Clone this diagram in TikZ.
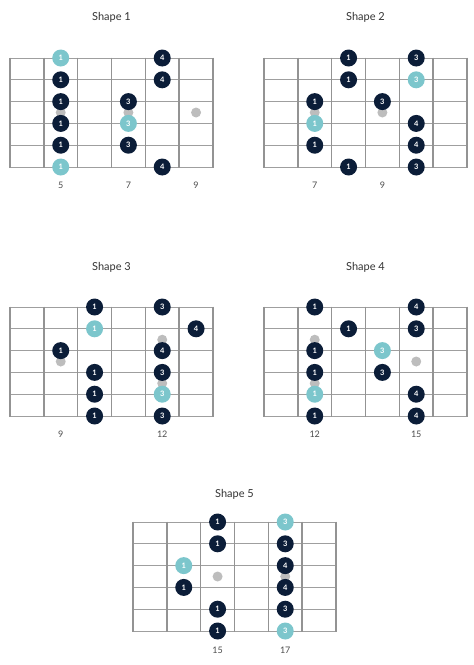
\documentclass[tikz,border=0pt]{standalone}
\usepackage{fontspec}
\setmainfont{Lato}
\usetikzlibrary{positioning}
\definecolor{navy}{HTML}{0B1D38}
\definecolor{rootcol}{HTML}{7CC6CC}
\definecolor{inlay}{HTML}{BDBDBD}

\tikzset{
  fret/.style={line width=1.6pt,draw=gray!85},
  string/.style={line width=0.7pt,draw=gray!75},
  finger/.style={circle,fill=navy,text=white,minimum size=17pt,inner sep=0pt,font=\fontsize{7.5}{7.5}\selectfont\bfseries},
  root/.style={finger,fill=rootcol},
  dotmark/.style={fill=inlay},
  title/.style={font=\fontsize{11}{13}\selectfont,text=black!80},
  fretno/.style={font=\fontsize{9}{10}\selectfont,text=black!70}
}
% one fretboard: 6 strings, 6 fret spaces
\newcommand{\board}{%
  \foreach \s in {0,...,5} \draw[string] (0,\s*21.8) -- (203,\s*21.8);
  \foreach \f in {0,...,6} \draw[fret] (\f*33.83,-0.5) -- (\f*33.83,109.5);
}

\begin{document}
\begin{tikzpicture}[x=1pt,y=-1pt]
  \useasboundingbox (0,0) rectangle (474,665);

  % Shape 1
  \begin{scope}[shift={(10,58)}]
      \board
      \foreach \c/\r in {2/3.5,4/3.5,6/3.5}
          \fill[dotmark] ({(\c-0.5)*33.83},{(\r-1)*21.8}) circle (5);
      \node[title] (t1) at (101.5,-41) {Shape 1};
      \foreach \c/\r/\t/\k [count=\i] in {2/1/1/root,2/2/1/finger,2/3/1/finger,2/4/1/finger,2/5/1/finger,2/6/1/root,
                                           5/1/4/finger,5/2/4/finger,4/3/3/finger,4/4/3/root,4/5/3/finger,5/6/4/finger}
          \node[\k] (a\i) at ({(\c-0.5)*33.83},{(\r-1)*21.8}) {\t};
      \foreach \c/\t [count=\i] in {2/5,4/7,6/9}
          \node[fretno] (fa\i) at ({(\c-0.5)*33.83},127) {\t};
  \end{scope}

  % Shape 2
  \begin{scope}[shift={(264,58)}]
      \board
      \foreach \c/\r in {2/3.5,4/3.5}
          \fill[dotmark] ({(\c-0.5)*33.83},{(\r-1)*21.8}) circle (5);
      \node[title] (t2) at (101.5,-41) {Shape 2};
      \foreach \c/\r/\t/\k [count=\i] in {3/1/1/finger,3/2/1/finger,2/3/1/finger,2/4/1/root,2/5/1/finger,3/6/1/finger,
                                           5/1/3/finger,5/2/3/root,4/3/3/finger,5/4/4/finger,5/5/4/finger,5/6/3/finger}
          \node[\k] (b\i) at ({(\c-0.5)*33.83},{(\r-1)*21.8}) {\t};
      \foreach \c/\t [count=\i] in {2/7,4/9}
          \node[fretno] (fb\i) at ({(\c-0.5)*33.83},127) {\t};
  \end{scope}

  % Shape 3
  \begin{scope}[shift={(10,307)}]
      \board
      \foreach \c/\r in {2/3.5,5/2.5,5/4.5}
          \fill[dotmark] ({(\c-0.5)*33.83},{(\r-1)*21.8}) circle (5);
      \node[title] (t3) at (101.5,-40) {Shape 3};
      \foreach \c/\r/\t/\k [count=\i] in {3/1/1/finger,3/2/1/root,2/3/1/finger,3/4/1/finger,3/5/1/finger,3/6/1/finger,
                                           5/1/3/finger,6/2/4/finger,5/3/4/finger,5/4/3/finger,5/5/3/root,5/6/3/finger}
          \node[\k] (c\i) at ({(\c-0.5)*33.83},{(\r-1)*21.8}) {\t};
      \foreach \c/\t [count=\i] in {2/9,5/12}
          \node[fretno] (fc\i) at ({(\c-0.5)*33.83},127) {\t};
  \end{scope}

  % Shape 4
  \begin{scope}[shift={(264,307)}]
      \board
      \foreach \c/\r in {2/2.5,2/4.5,5/3.5}
          \fill[dotmark] ({(\c-0.5)*33.83},{(\r-1)*21.8}) circle (5);
      \node[title] (t4) at (101.5,-40) {Shape 4};
      \foreach \c/\r/\t/\k [count=\i] in {2/1/1/finger,3/2/1/finger,2/3/1/finger,2/4/1/finger,2/5/1/root,2/6/1/finger,
                                           5/1/4/finger,5/2/3/finger,4/3/3/root,4/4/3/finger,5/5/4/finger,5/6/4/finger}
          \node[\k] (d\i) at ({(\c-0.5)*33.83},{(\r-1)*21.8}) {\t};
      \foreach \c/\t [count=\i] in {2/12,5/15}
          \node[fretno] (fd\i) at ({(\c-0.5)*33.83},127) {\t};
  \end{scope}

  % Shape 5
  \begin{scope}[shift={(133,522)}]
      \board
      \foreach \c/\r in {3/3.5,5/3.5}
          \fill[dotmark] ({(\c-0.5)*33.83},{(\r-1)*21.8}) circle (5);
      \node[title] (t5) at (101.5,-28) {Shape 5};
      \foreach \c/\r/\t/\k [count=\i] in {3/1/1/finger,3/2/1/finger,2/3/1/root,2/4/1/finger,3/5/1/finger,3/6/1/finger,
                                           5/1/3/root,5/2/3/finger,5/3/4/finger,5/4/4/finger,5/5/3/finger,5/6/3/root}
          \node[\k] (e\i) at ({(\c-0.5)*33.83},{(\r-1)*21.8}) {\t};
      \foreach \c/\t [count=\i] in {3/15,5/17}
          \node[fretno] (fe\i) at ({(\c-0.5)*33.83},128) {\t};
  \end{scope}
\end{tikzpicture}
\end{document}
